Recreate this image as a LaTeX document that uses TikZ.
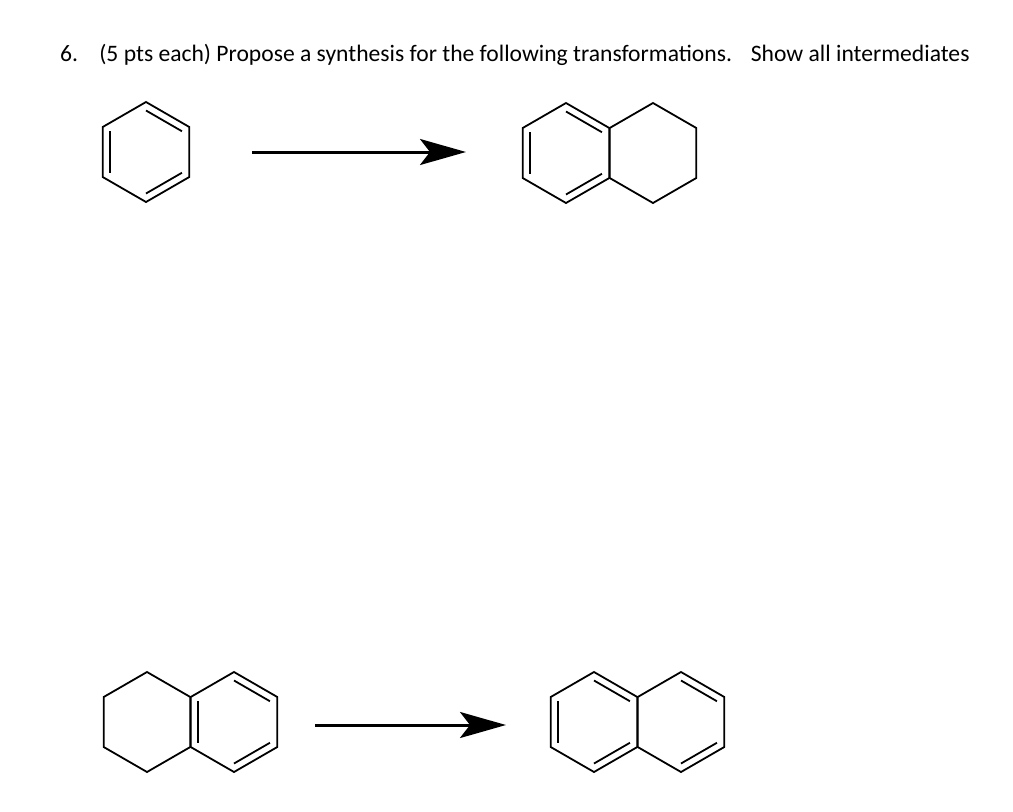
\documentclass[tikz,border=0pt]{standalone}
\usepackage{fontspec}
\setmainfont{Carlito}
\usetikzlibrary{arrows.meta,calc}
\tikzset{bond/.style={line width=1.8pt,line join=miter},
  rxn/.style={line width=3pt,-{Stealth[length=46pt,width=26pt,inset=10pt]}}}
% ring macro: name, center x, center y
\newcommand{\mkring}[3]{%
  \coordinate (#1c) at (#2,#3);
  \foreach \i/\a in {1/90,2/30,3/-30,4/-90,5/-150,6/150}{\coordinate (#1\i) at ($(#2,#3)+(\a:50)$);}}
\newcommand{\hexring}[1]{\draw[bond] (#11)--(#12)--(#13)--(#14)--(#15)--(#16)--cycle;}
\newcommand{\inb}[3]{\draw[bond] ($(#1#2)!0.17!(#1c)$)--($(#1#3)!0.17!(#1c)$);}
\begin{document}
\begin{tikzpicture}[x=1pt,y=-1pt]
\useasboundingbox[fill=white] (0,0) rectangle (1013,812);
\node[anchor=west,font=\fontsize{23.6}{28}\selectfont,inner sep=0] (title) at (60,55)
 {6.\hspace{0.9em}(5 pts each) Propose a synthesis for the following transformations.\hspace{0.5em} Show all intermediates};
% benzene
\mkring{A}{146}{152}
\hexring{A} \inb{A}{1}{2} \inb{A}{3}{4} \inb{A}{5}{6}
% arrow 1
\coordinate (a1) at (252,152); \coordinate (a2) at (466,152);
\draw[rxn] (a1)--(a2);
% tetralin top
\mkring{B}{566}{153} \mkring{C}{653}{153}
\hexring{B} \hexring{C}
\inb{B}{1}{2} \inb{B}{3}{4} \inb{B}{5}{6}
% tetralin bottom
\mkring{D}{147}{722} \mkring{E}{234}{722}
\hexring{D} \hexring{E}
\inb{E}{5}{6} \inb{E}{1}{2} \inb{E}{3}{4}
% arrow 2
\coordinate (b1) at (315,725); \coordinate (b2) at (506,725);
\draw[rxn] (b1)--(b2);
% naphthalene
\mkring{F}{594}{722} \mkring{G}{681}{722}
\hexring{F} \hexring{G}
\inb{F}{1}{2} \inb{F}{3}{4} \inb{F}{5}{6}
\inb{G}{1}{2} \inb{G}{3}{4}
\end{tikzpicture}
\end{document}
